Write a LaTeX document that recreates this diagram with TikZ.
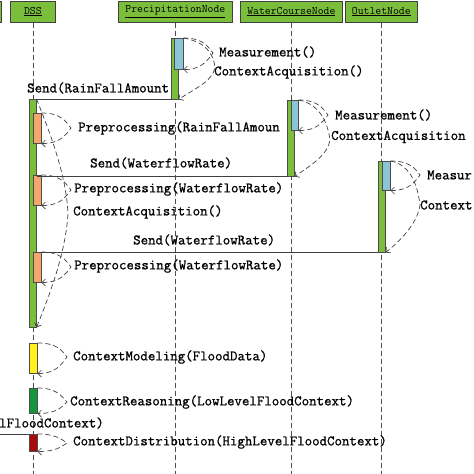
\documentclass[tikz,border=0pt]{standalone}
\usepackage{fontspec}
\newfontfamily\lblfont{Latin Modern Mono}[FakeBold=1]
\newfontfamily\hdrfont{Latin Modern Mono}
\usetikzlibrary{positioning,arrows.meta}
\definecolor{barGreen}{RGB}{122,190,60}
\definecolor{measBlue}{RGB}{140,196,216}
\definecolor{preOrange}{RGB}{244,166,110}
\definecolor{modYellow}{RGB}{255,240,30}
\definecolor{reaGreen}{RGB}{20,150,60}
\definecolor{disRed}{RGB}{170,10,10}
\begin{document}
\begin{tikzpicture}[x=1pt, y=-1pt,
    head/.style={rectangle, draw=black!75, fill=barGreen, line width=0.7pt,
                 minimum height=21.5pt, inner sep=0, anchor=north west,
                 font=\fontsize{11.4}{12}\hdrfont},
    life/.style={draw=black!70, line width=0.7pt, dash pattern=on 5pt off 3pt},
    bar/.style={rectangle, draw=black!70, line width=0.5pt, inner sep=0,
                minimum width=7pt, anchor=north west},
    selfloop/.style={draw=black!75, line width=0.7pt, dash pattern=on 5pt off 3pt,
                     -{Straight Barb[length=3.5pt,width=7pt]}},
    msg/.style={draw=black!75, line width=0.8pt},
    lbl/.style={anchor=west, inner sep=0, font=\fontsize{14.5}{16}\lblfont}]
  \useasboundingbox (0,0) rectangle (474,474);
  \coordinate (bottom) at (0,474);

  \node[head, anchor=north east, minimum width=30pt] (hdrSrc) at (2,0.5) {};
  \node[head, minimum width=45pt] (hdrDSS) at (10,0.5) {\underline{DSS}};
  \node[head, minimum width=114pt] (hdrPrec) at (118,0.5) {\underline{PrecipitationNode}};
  \node[head, minimum width=102pt] (hdrWater) at (240,0.5) {\underline{WaterCourseNode}};
  \node[head, minimum width=72pt] (hdrOutlet) at (345,0.5) {\underline{OutletNode}};

  \draw[life] (hdrDSS.south) -- (hdrDSS.south |- bottom);
  \draw[life] (hdrPrec.south) -- (hdrPrec.south |- bottom);
  \draw[life] (hdrWater.south) -- (hdrWater.south |- bottom);
  \draw[life] (hdrOutlet.south) -- (hdrOutlet.south |- bottom);

  \node[bar, fill=barGreen, minimum height=61pt] (pBar) at (171,38) {};
  \node[bar, fill=measBlue, minimum width=9pt, minimum height=31pt] (pMeas) at (174,38) {};
  \node[bar, fill=barGreen, minimum height=76pt] (wBar) at (287,100) {};
  \node[bar, fill=measBlue, minimum height=30pt] (wMeas) at (291,100) {};
  \node[bar, fill=barGreen, minimum height=91pt] (oBar) at (378,161) {};
  \node[bar, fill=measBlue, minimum width=8pt, minimum height=29pt] (oMeas) at (382,161) {};
  \node[bar, fill=barGreen, minimum height=228pt] (dBar) at (29,99) {};
  \node[bar, fill=preOrange, minimum width=8pt, minimum height=30pt] (dPre1) at (33,113) {};
  \node[bar, fill=preOrange, minimum width=8pt, minimum height=30pt] (dPre2) at (33,175) {};
  \node[bar, fill=preOrange, minimum width=8pt, minimum height=30pt] (dPre3) at (33,252) {};
  \node[bar, fill=modYellow, minimum width=8pt, minimum height=30pt] (dMod) at (29,343) {};
  \node[bar, fill=reaGreen, minimum width=8pt, minimum height=25pt] (dRea) at (29,388) {};
  \node[bar, fill=disRed, minimum width=8pt, minimum height=17pt] (dDis) at (29,434) {};

  \draw[selfloop] (pMeas.north east) .. controls +(18,0) and +(-6,-8) .. (213,53)
                  .. controls +(-6,8) and +(18,0) .. (pMeas.south east);
  \draw[selfloop] (pMeas.north east) .. controls +(22,4) and +(-2,-14) .. (215,67)
                  .. controls +(-2,14) and +(18,-12) .. (pBar.south east);
  \draw[selfloop] (wMeas.north east) .. controls +(18,0) and +(-6,-8) .. (328,115)
                  .. controls +(-6,8) and +(18,0) .. (wMeas.south east);
  \draw[selfloop] (wMeas.north east) .. controls +(22,4) and +(-2,-16) .. (330,140)
                  .. controls +(-2,14) and +(18,-12) .. (wBar.south east);
  \draw[selfloop] (oMeas.north east) .. controls +(18,0) and +(-6,-8) .. (420,175)
                  .. controls +(-6,8) and +(18,0) .. (oMeas.south east);
  \draw[selfloop] (oMeas.north east) .. controls +(22,4) and +(-2,-16) .. (420,205)
                  .. controls +(-2,16) and +(18,-14) .. (oBar.south east);
  \draw[selfloop] (dBar.north east) .. controls +(12,30) and +(-2,-40) .. (68,213)
                  .. controls +(-2,40) and +(12,-30) .. (dBar.south east);
  \draw[selfloop] (dPre1.north east) .. controls +(18,0) and +(-6,-8) .. (71,128)
                  .. controls +(-6,8) and +(18,0) .. (dPre1.south east);
  \draw[selfloop] (dPre2.north east) .. controls +(18,0) and +(-6,-8) .. (71,190)
                  .. controls +(-6,8) and +(18,0) .. (dPre2.south east);
  \draw[selfloop] (dPre3.north east) .. controls +(18,0) and +(-6,-8) .. (71,267)
                  .. controls +(-6,8) and +(18,0) .. (dPre3.south east);
  \draw[selfloop] (dMod.north east) .. controls +(18,0) and +(-6,-8) .. (67,357)
                  .. controls +(-6,8) and +(18,0) .. (dMod.south east);
  \draw[selfloop] (dRea.north east) .. controls +(18,0) and +(-6,-7) .. (67,402)
                  .. controls +(-6,6) and +(18,0) .. (dRea.south east);
  \draw[selfloop] (dDis.north east) .. controls +(18,0) and +(-6,-4) .. (67,443)
                  .. controls +(-6,4) and +(18,0) .. (dDis.south east);

  \coordinate (srcEnd) at (-5,434);
  \draw[msg] (pBar.south west) -- (pBar.south west -| dBar.east);
  \draw[msg] (wBar.south west) -- (wBar.south west -| dBar.east);
  \draw[msg] (oBar.south west) -- (oBar.south west -| dBar.east);
  \draw[msg] (srcEnd) -- (dDis.north west);

  \node[lbl] (lMeasP) at (219,52) {Measurement()};
  \node[lbl] (lAcqP) at (214,72) {ContextAcquisition()};
  \node[lbl] (lSendR) at (27,88) {Send(RainFallAmount};
  \node[lbl] (lMeasW) at (335,115) {Measurement()};
  \node[lbl] (lAcqW) at (331,137) {ContextAcquisition};
  \node[lbl] (lPreR) at (78,128) {Preprocessing(RainFallAmoun};
  \node[lbl] (lSendW1) at (90,163) {Send(WaterflowRate)};
  \node[lbl] (lPreW1) at (74,189) {Preprocessing(WaterflowRate)};
  \node[lbl] (lAcqD) at (73,212) {ContextAcquisition()};
  \node[lbl] (lMeasO) at (427,175) {Measur};
  \node[lbl] (lAcqO) at (420,205) {Context};
  \node[lbl] (lSendW2) at (133,240) {Send(WaterflowRate)};
  \node[lbl] (lPreW2) at (74,266) {Preprocessing(WaterflowRate)};
  \node[lbl] (lMod) at (73,357) {ContextModeling(FloodData)};
  \node[lbl] (lRea) at (70,402) {ContextReasoning(LowLevelFloodContext)};
  \node[lbl] (lHigh) at (-1,423) {lFloodContext)};
  \node[lbl] (lDis) at (73,442) {ContextDistribution(HighLevelFloodContext)};
\end{tikzpicture}
\end{document}
